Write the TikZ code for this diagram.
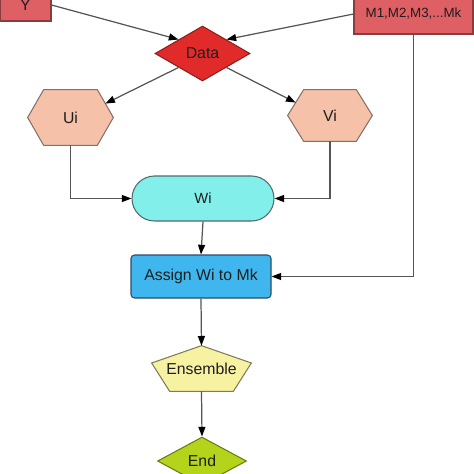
\documentclass[tikz,border=0pt]{standalone}
\usepackage{fontspec}
\setmainfont{Liberation Sans}
\usetikzlibrary{shapes.geometric,shapes.misc,arrows.meta,calc,backgrounds}
\newlength\pxu
\setlength\pxu{0.02cm}
\definecolor{boxred}{HTML}{DE6064}
\definecolor{boxredb}{HTML}{8A3B3D}
\definecolor{datared}{HTML}{E12B2B}
\definecolor{dataredb}{HTML}{8E1D1D}
\definecolor{peach}{HTML}{F5C1A9}
\definecolor{peachb}{HTML}{85716A}
\definecolor{wicyan}{HTML}{82EFEA}
\definecolor{wicyanb}{HTML}{4F6B6A}
\definecolor{assignblue}{HTML}{3FB7EE}
\definecolor{assignb}{HTML}{2C4B66}
\definecolor{ensy}{HTML}{F7F2A2}
\definecolor{ensyb}{HTML}{7D7B5C}
\definecolor{endg}{HTML}{B4D31B}
\definecolor{endgb}{HTML}{6A7C16}
\definecolor{linegray}{HTML}{555555}
\definecolor{txt}{HTML}{1E1E1E}
\begin{document}
\begin{tikzpicture}[x=0.02cm,y=-0.02cm,
  lbl/.style={font=\fontsize{9}{10}\selectfont, text=txt, inner sep=0pt},
  midlbl/.style={font=\fontsize{8.4}{10}\selectfont, text=txt, inner sep=0pt},
  smalllbl/.style={font=\fontsize{7.6}{9}\selectfont, text=txt, inner sep=0pt},
  topbox/.style={rectangle, fill=boxred, draw=boxredb, line width=0.6pt},
  conn/.style={draw=linegray, line width=0.7pt, -{Triangle[length=5.5pt,width=4pt,color=black]}},
  plainline/.style={draw=linegray, line width=0.7pt}
]
\useasboundingbox (0,0) rectangle (474,474);
\clip (0,0) rectangle (474,474);
% top boxes
\node[topbox, lbl, minimum width=51\pxu, minimum height=32\pxu] (Y) at (25.5,5) {Y};
\node[topbox, smalllbl, minimum width=119\pxu, minimum height=40\pxu] (M) at (413.5,14) {M1,M2,M3,...Mk};
% data diamond
\node[diamond, fill=datared, draw=dataredb, line width=0.6pt, lbl, minimum width=95\pxu, minimum height=55\pxu] (Data) at (202.5,53.5) {Data};
% hexagons
\node[lbl, minimum width=85\pxu, minimum height=55\pxu] (Ui) at (70.5,117.5) {Ui};
\node[lbl, minimum width=84\pxu, minimum height=51\pxu] (Vi) at (330,115.5) {Vi};
% Wi
\node[rounded rectangle, fill=wicyan, draw=wicyanb, line width=0.6pt, midlbl, minimum width=142\pxu, minimum height=45\pxu] (Wi) at (203,198.5) {Wi};
% Assign
\node[rectangle, rounded corners=2pt, fill=assignblue, draw=assignb, line width=0.6pt, lbl, minimum width=140\pxu, minimum height=43\pxu] (As) at (201,276.5) {Assign Wi to Mk};
% Ensemble pentagon
\node[lbl, minimum width=99\pxu, minimum height=45\pxu] (Ens) at (201.5,368.5) {Ensemble};
% End
\node[diamond, fill=endg, draw=endgb, line width=0.6pt, lbl, minimum width=89\pxu, minimum height=48\pxu] (End) at (202,461) {End};
\begin{scope}[on background layer]
  \draw[fill=peach, draw=peachb, line width=0.6pt]
    (Ui.west) -- ($(Ui.north west)+(16,0)$) -- ($(Ui.north east)+(-16,0)$) -- (Ui.east)
    -- ($(Ui.south east)+(-16,0)$) -- ($(Ui.south west)+(16,0)$) -- cycle;
  \draw[fill=peach, draw=peachb, line width=0.6pt]
    (Vi.west) -- ($(Vi.north west)+(16,0)$) -- ($(Vi.north east)+(-16,0)$) -- (Vi.east)
    -- ($(Vi.south east)+(-16,0)$) -- ($(Vi.south west)+(16,0)$) -- cycle;
  \draw[fill=ensy, draw=ensyb, line width=0.6pt]
    (Ens.north) -- ($(Ens.west)+(0,-5.5)$) -- ($(Ens.south west)+(18,0)$)
    -- ($(Ens.south east)+(-18,0)$) -- ($(Ens.east)+(0,-5.5)$) -- cycle;
\end{scope}
% connectors
\draw[conn] (Y.east) -- (Data.north west);
\draw[conn] (M.west) -- (Data.north east);
\draw[conn] (Data.south west) -- ($(Ui.east)!0.5!($(Ui.north east)+(-16,0)$)$);
\draw[conn] (Data.south east) -- ($(Vi.west)!0.5!($(Vi.north west)+(16,0)$)$);
\draw[conn] (Ui.south) |- (Wi.west);
\draw[conn] (Vi.south) |- (Wi.east);
\draw[conn] (Wi.south) -- (As.north);
\draw[conn] (M.south) |- (As.east);
\draw[conn] (As.south) -- (Ens.north);
\draw[conn] (Ens.south) -- (End.north);
\end{tikzpicture}
\end{document}
